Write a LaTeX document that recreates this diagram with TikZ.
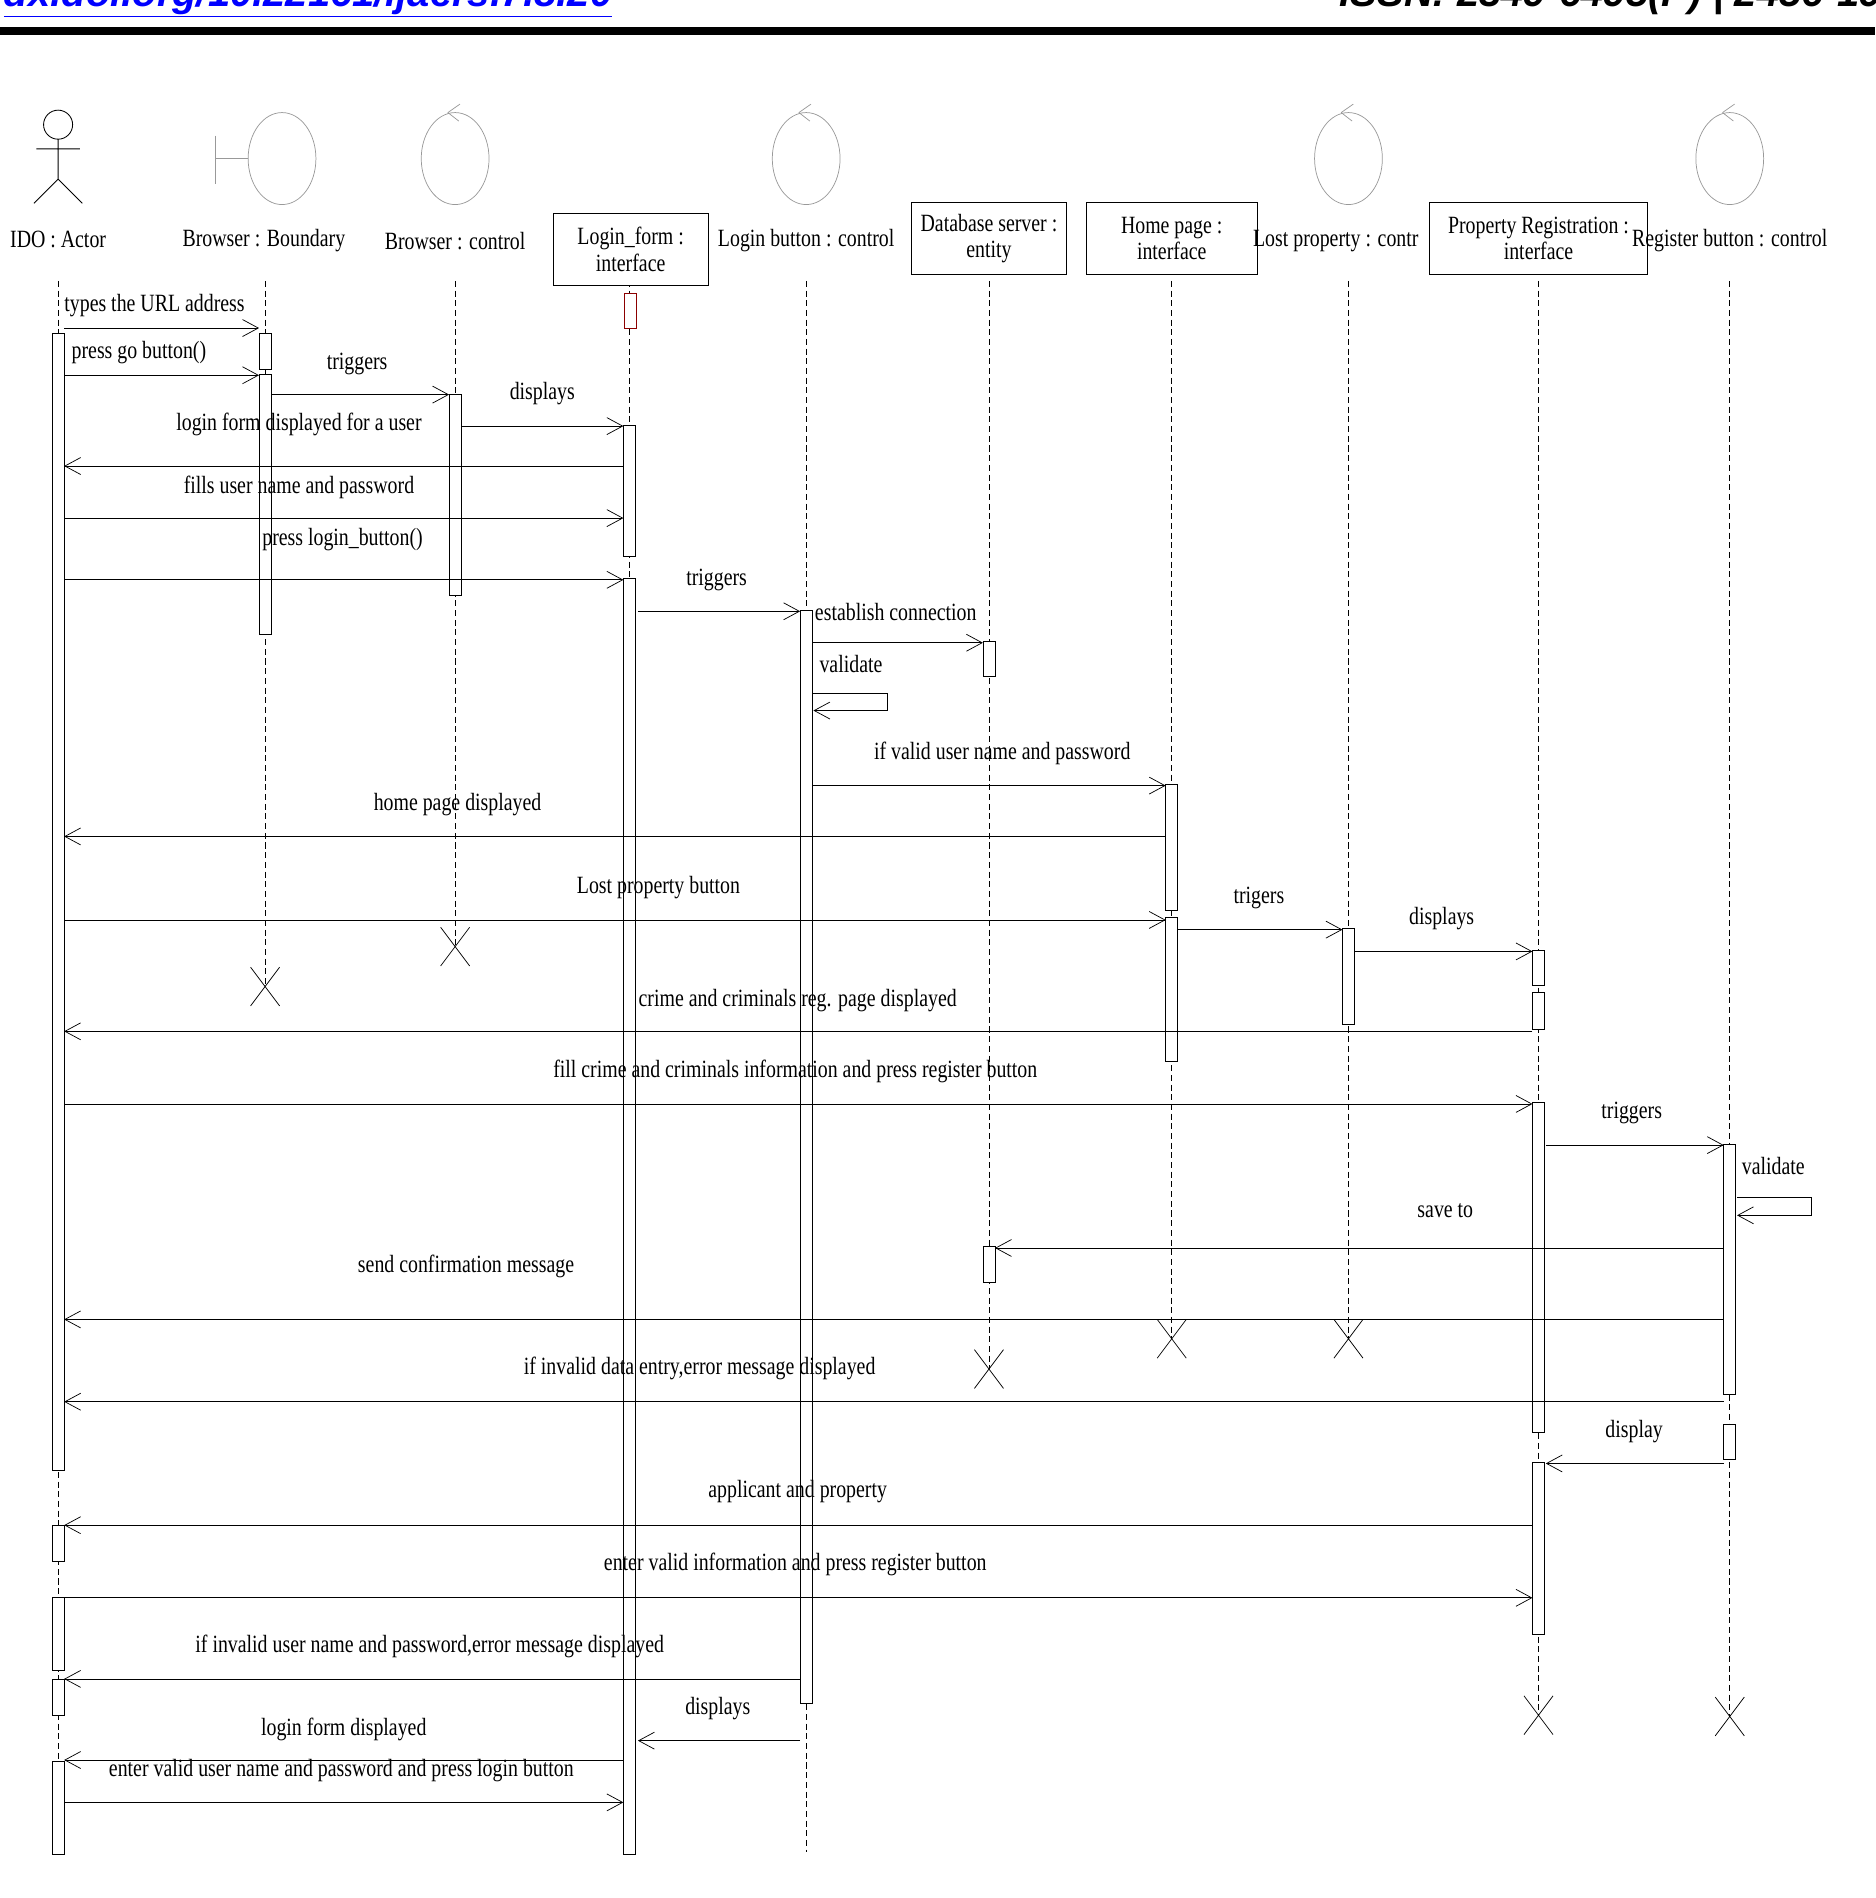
\documentclass[tikz,border=0pt]{standalone}
\usepackage{fontspec}
\setmainfont{Liberation Serif}[FakeStretch=0.8]
\newfontfamily\hdfont{Liberation Sans}
\usetikzlibrary{arrows.meta}
\begin{document}
\begin{tikzpicture}[x=1pt,y=-1pt,
  every node/.style={font=\fontsize{20.5}{22}\selectfont,inner sep=1pt},
  msg/.style={-{Straight Barb[length=13pt,width=14pt]},line width=0.6pt},
  life/.style={dashed,dash pattern=on 5pt off 3pt,line width=0.5pt},
  act/.style={draw,fill=white,line width=0.6pt},
  icon/.style={draw=gray!80,line width=0.6pt},
  obox/.style={draw,fill=white,line width=0.8pt,align=center,minimum height=60pt},
  kill/.style={line width=0.6pt},
  lbl/.style={above=1pt}]
\useasboundingbox (0,0) rectangle (1549,1568);
% header
\node[anchor=base west,text=blue,font=\hdfont\bfseries\itshape\fontsize{33}{35}\selectfont] (hl) at (2,5) {\underline{dx.doi.org/10.22161/ijaers.7.8.20}};
\node[anchor=base east,font=\hdfont\bfseries\itshape\fontsize{33}{35}\selectfont] (hr) at (1640,5) {ISSN: 2349-6495(P) | 2456-1908(O)};
\fill (0,22) rectangle (1549,29);
% icons
\draw[line width=0.7pt] (48,103) circle (12);
\draw[line width=0.7pt] (48,115)--(48,148) (30,123)--(66,123) (48,148)--(28,168) (48,148)--(68,168);
\draw[icon] (233,131) ellipse (28 and 38);
\draw[icon] (178,131)--(205,131) (178,112)--(178,152);
\foreach \x in {376,666,1114,1429}{
  \draw[icon] (\x,131) ellipse (28 and 38);
  \draw[icon] (\x-6,93)--(\x+4,86) (\x-6,93)--(\x+3,100);
}
% lifelines
\foreach \x/\e in {48/1530,219/815,376/782,520/1530,666/1530,817/1131,968/1106,1114/1106,1271/1417,1429/1418}{
  \draw[life] (\x,232)--(\x,\e);
}
% headings
\node (a1) at (48,198) {IDO : Actor};
\node (a2) at (218,199) {Browser : Boundary};
\node (a3) at (376,199) {Browser : control};
\node[obox,minimum width=128pt] (a4) at (521,206) {Login\_form :\\interface};
\node (a5) at (666,199) {Login button : control};
\node[obox,minimum width=128pt] (a6) at (817,197) {Database server :\\entity};
\node[obox,minimum width=141pt] (a7) at (968,197) {Home page :\\interface};
\node[anchor=west] (a8) at (1034,199) {Lost property : contr};
\node[obox,minimum width=180pt] (a9) at (1271,197) {Property Registration :\\interface};
\node (a10) at (1429,199) {Register button : control};
% kills
\foreach \x/\y in {219/815,376/782,817/1131,968/1106,1114/1106,1271/1417,1429/1418}{
  \draw[kill] (\x-12,\y-16)--(\x+12,\y+16) (\x+12,\y-16)--(\x-12,\y+16);
}
% activations
\foreach \x/\a/\b in {48/275/1215,48/1260/1290,48/1320/1380,48/1387/1417,48/1455/1532,
  219/275/305,219/309/524,376/326/492,520/351/460,520/478/1532,666/504/1407,
  817/530/559,817/1030/1059,968/648/752,968/758/877,1114/767/846,
  1271/785/814,1271/820/850,1271/911/1183,1271/1208/1350,1429/945/1152,1429/1177/1206}{
  \draw[act] (\x-5,\a) rectangle (\x+5,\b);
}
\draw[draw=red!55!black,fill=white,line width=0.6pt] (516,242) rectangle (526,271);
% messages
\draw[msg] (53,271)--(214,271); \node[anchor=south west] (m1) at (52,263) {types the URL address};
\draw[msg] (53,310)--(214,310); \node[anchor=south west] (m2) at (58,302) {press go button()};
\draw[msg] (224,326)--(371,326); \node[lbl] (m3) at (295,312) {triggers};
\draw[msg] (381,352)--(515,352); \node[lbl] (m4) at (448,337) {displays};
\draw[msg] (515,385)--(53,385); \node[lbl] (m5) at (247,362) {login form displayed for a user};
\draw[msg] (53,428)--(515,428); \node[lbl] (m6) at (247,414) {fills user name and password};
\draw[msg] (53,479)--(515,479); \node[lbl] (m7) at (283,457) {press login\_button()};
\draw[msg] (527,505)--(661,505); \node[lbl] (m8) at (592,490) {triggers};
\draw[msg] (671,531)--(812,531); \node[lbl] (m9) at (740,515) {establish connection};
\draw[msg] (672,573)--(733,573)--(733,587)--(672,587); \node[lbl] (m10) at (703,558) {validate};
\draw[msg] (671,649)--(963,649); \node[lbl] (m11) at (828,634) {if valid user name and password};
\draw[msg] (963,691)--(53,691); \node[lbl] (m12) at (378,676) {home page displayed};
\draw[msg] (53,760)--(963,760); \node[lbl] (m13) at (544,745) {Lost property button};
\draw[msg] (973,768)--(1109,768); \node[lbl] (m14) at (1040,753) {trigers};
\draw[msg] (1119,786)--(1266,786); \node[lbl] (m15) at (1191,770) {displays};
\draw[msg] (1266,852)--(53,852); \node[lbl] (m16) at (659,838) {crime and criminals reg. page displayed};
\draw[msg] (53,912)--(1266,912); \node[lbl] (m17) at (657,897) {fill crime and criminals information and press register button};
\draw[msg] (1277,946)--(1424,946); \node[lbl] (m18) at (1348,931) {triggers};
\draw[msg] (1435,989)--(1496,989)--(1496,1004)--(1435,1004); \node[lbl] (m19) at (1465,973) {validate};
\draw[msg] (1424,1031)--(822,1031); \node[lbl] (m20) at (1194,1008) {save to};
\draw[msg] (1424,1090)--(53,1090); \node[lbl] (m21) at (385,1058) {send confirmation message};
\draw[msg] (1424,1158)--(53,1158); \node[lbl] (m22) at (578,1142) {if invalid data entry,error message displayed};
\draw[msg] (1424,1209)--(1277,1209); \node[lbl] (m23) at (1350,1194) {display};
\draw[msg] (1266,1260)--(53,1260); \node[lbl] (m24) at (659,1244) {applicant and property};
\draw[msg] (53,1320)--(1266,1320); \node[lbl] (m25) at (657,1304) {enter valid information and press register button};
\draw[msg] (661,1387)--(53,1387); \node[lbl] (m26) at (355,1372) {if invalid user name and password,error message displayed};
\draw[msg] (661,1438)--(527,1438); \node[lbl] (m27) at (593,1423) {displays};
\draw[msg] (515,1454)--(53,1454); \node[lbl] (m28) at (284,1440) {login form displayed};
\draw[msg] (53,1489)--(515,1489); \node[lbl] (m29) at (282,1474) {enter valid user name and password and press login button};
\end{tikzpicture}
\end{document}
